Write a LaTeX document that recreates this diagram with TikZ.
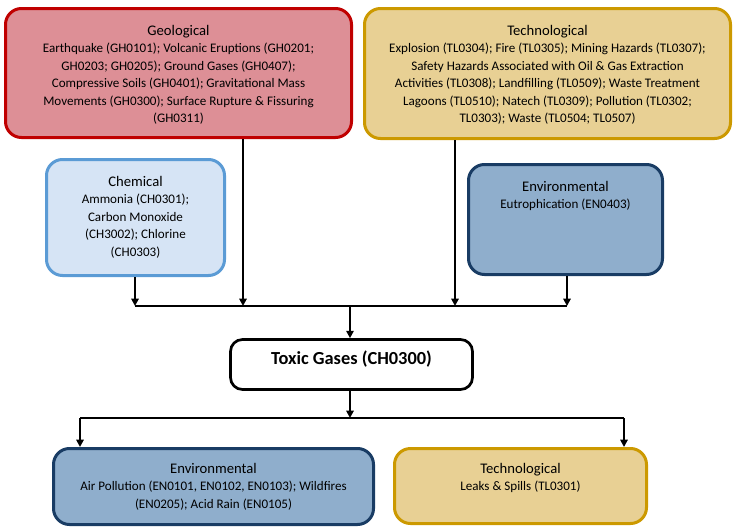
\documentclass[tikz,border=0pt]{standalone}
\usepackage{fontspec}
\setmainfont{Carlito}
\usepackage{xcolor}
\usepackage{tikz}
\usetikzlibrary{positioning,arrows.meta,fit,calc}

\definecolor{geoline}{RGB}{192,0,0}
\definecolor{geofill}{RGB}{221,143,150}
\definecolor{techline}{RGB}{204,153,0}
\definecolor{techfill}{RGB}{232,208,148}
\definecolor{chemline}{RGB}{91,155,213}
\definecolor{chemfill}{RGB}{214,228,245}
\definecolor{envline}{RGB}{25,60,100}
\definecolor{envfill}{RGB}{143,174,204}

\newcommand{\ttlfont}{\fontsize{11}{13}\selectfont}

\begin{document}
\begin{tikzpicture}[
  x=0.75pt, y=-0.75pt,
  box/.style={rounded corners=12pt, line width=2.25pt, inner sep=0pt},
  geo/.style={box, draw=geoline, fill=geofill},
  tech/.style={box, draw=techline, fill=techfill},
  chem/.style={box, draw=chemline, fill=chemfill},
  envr/.style={box, draw=envline, fill=envfill},
  toxic/.style={box, rounded corners=9pt, line width=2pt, draw=black, fill=white},
  txt/.style={anchor=north, inner sep=0pt, align=center,
              font=\fontsize{9.8}{13.1}\selectfont},
  arr/.style={-{Triangle[length=5.5pt,width=5.5pt]}, line width=1.5pt},
  lnk/.style={line width=1.5pt},
]
\useasboundingbox (0,0) rectangle (736,532);

% boxes
\node[geo,   fit={(5.5,8.5) (351.5,137.5)}]     (geo)   {};
\node[tech,  fit={(364.5,8.5) (730.5,138.5)}]   (tech)  {};
\node[chem,  fit={(46.5,159.5) (224.5,275.5)}]  (chem)  {};
\node[envr,  fit={(468.5,164.5) (662.5,274.5)}] (envm)  {};
\node[toxic, fit={(230.5,339.5) (472.5,389.5)}] (toxic) {};
\node[envr,  fit={(53.5,448.5) (373.5,524.5)}]  (envb)  {};
\node[tech,  fit={(394.5,448.5) (646.5,523.5)}] (techb) {};

% texts
\node[txt] (geot) at (178.5,25) {{\ttlfont Geological}\\
  Earthquake (GH0101); Volcanic Eruptions (GH0201;\\
  GH0203; GH0205); Ground Gases (GH0407);\\
  Compressive Soils (GH0401); Gravitational Mass\\
  Movements (GH0300); Surface Rupture \& Fissuring\\
  (GH0311)};
\node[txt] (techt) at (547.5,25) {{\ttlfont Technological}\\
  Explosion (TL0304); Fire (TL0305); Mining Hazards (TL0307);\\
  Safety Hazards Associated with Oil \& Gas Extraction\\
  Activities (TL0308); Landfilling (TL0509); Waste Treatment\\
  Lagoons (TL0510); Natech (TL0309); Pollution (TL0302;\\
  TL0303); Waste (TL0504; TL0507)};
\node[txt] (chemt) at (135.5,176) {{\ttlfont Chemical}\\
  Ammonia (CH0301);\\ Carbon Monoxide\\ (CH3002); Chlorine\\ (CH0303)};
\node[txt] (envmt) at (565.5,181) {{\ttlfont Environmental}\\
  Eutrophication (EN0403)};
\node[anchor=base, inner sep=0pt, font=\fontsize{13.8}{16}\selectfont\bfseries]
  (toxict) at (351.5,364) {Toxic Gases (CH0300)};
\node[txt] (envbt) at (213.5,463) {{\ttlfont Environmental}\\
  Air Pollution (EN0101, EN0102, EN0103); Wildfires\\
  (EN0205); Acid Rain (EN0105)};
\node[txt] (techbt) at (520.5,463) {{\ttlfont Technological}\\
  Leaks \& Spills (TL0301)};

% connectors
\coordinate (busl) at (135,306);
\coordinate (busr) at (567,306);
\coordinate (c2) at (243,306);
\coordinate (c3) at (455,306);
\coordinate (mid) at (350,306);
\draw[lnk] (busl) -- (busr);
\foreach \b/\c in {chem/busl, geo/c2, tech/c3, envm/busr}{ \draw[arr] (\b.south -| \c) -- (\c); }
\draw[arr] (mid) -- (mid |- toxic.north);

\coordinate (low) at (350,418);
\coordinate (lowl) at (80,418);
\coordinate (lowr) at (624,418);
\draw[arr] (toxic.south -| low) -- (low);
\draw[lnk] (lowl) -- (lowr);
\foreach \c/\b in {lowl/envb, lowr/techb}{ \draw[arr] (\c) -- (\c |- \b.north); }
\end{tikzpicture}
\end{document}
